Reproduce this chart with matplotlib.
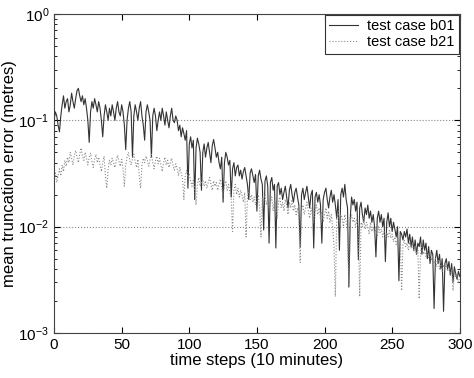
import numpy as np
import matplotlib.pyplot as plt
from matplotlib.ticker import LogLocator, NullFormatter

plt.rcParams['font.family'] = ['Liberation Sans', 'DejaVu Sans']
plt.rcParams['mathtext.fontset'] = 'custom'
plt.rcParams['mathtext.rm'] = 'Liberation Sans'

# mean truncation error per time step
b01 = [
    0.10, 0.12, 0.11, 0.09, 0.078, 0.11, 0.14, 0.17, 0.13, 0.15,
    0.16, 0.12, 0.14, 0.18, 0.15, 0.13, 0.16, 0.19, 0.20, 0.17,
    0.15, 0.17, 0.14, 0.16, 0.13, 0.10, 0.062, 0.12, 0.15, 0.13,
    0.16, 0.14, 0.12, 0.15, 0.13, 0.10, 0.07, 0.11, 0.14, 0.12,
    0.10, 0.13, 0.11, 0.14, 0.12, 0.10, 0.13, 0.15, 0.12, 0.11,
    0.14, 0.12, 0.09, 0.053, 0.10, 0.13, 0.15, 0.12, 0.045, 0.11,
    0.14, 0.12, 0.10, 0.13, 0.15, 0.11, 0.09, 0.065, 0.12, 0.14,
    0.12, 0.10, 0.045, 0.11, 0.13, 0.11, 0.08, 0.10, 0.12, 0.10,
    0.13, 0.11, 0.09, 0.12, 0.10, 0.085, 0.11, 0.13, 0.10, 0.095,
    0.11, 0.10, 0.08, 0.09, 0.07, 0.085, 0.075, 0.065, 0.08, 0.023,
    0.06, 0.07, 0.055, 0.065, 0.018, 0.055, 0.068, 0.06, 0.05, 0.022,
    0.05, 0.06, 0.045, 0.055, 0.062, 0.05, 0.04, 0.058, 0.066, 0.055,
    0.045, 0.05, 0.04, 0.035, 0.045, 0.017, 0.04, 0.05, 0.045, 0.038,
    0.042, 0.019, 0.035, 0.04, 0.03, 0.036, 0.038, 0.03, 0.034, 0.028,
    0.033, 0.036, 0.03, 0.025, 0.018, 0.032, 0.035, 0.03, 0.026, 0.031,
    0.014, 0.03, 0.034, 0.028, 0.025, 0.0093, 0.027, 0.03, 0.024, 0.007,
    0.026, 0.029, 0.022, 0.025, 0.0063, 0.024, 0.026, 0.02, 0.023, 0.018,
    0.021, 0.024, 0.019, 0.015, 0.022, 0.025, 0.02, 0.017, 0.021, 0.023,
    0.019, 0.016, 0.0064, 0.02, 0.023, 0.018, 0.021, 0.024, 0.019, 0.015,
    0.02, 0.022, 0.0063, 0.019, 0.021, 0.017, 0.02, 0.016, 0.007, 0.018,
    0.021, 0.023, 0.018, 0.015, 0.019, 0.022, 0.017, 0.02, 0.016, 0.012,
    0.018, 0.006, 0.02, 0.023, 0.019, 0.025, 0.018, 0.015, 0.0027, 0.012,
    0.019, 0.016, 0.018, 0.014, 0.017, 0.0049, 0.015, 0.017, 0.013, 0.011,
    0.015, 0.013, 0.016, 0.012, 0.014, 0.011, 0.013, 0.01, 0.0052, 0.012,
    0.014, 0.011, 0.013, 0.01, 0.012, 0.0047, 0.011, 0.0135, 0.01, 0.012,
    0.009, 0.011, 0.0095, 0.008, 0.01, 0.0031, 0.009, 0.0085, 0.0075, 0.009,
    0.008, 0.0095, 0.007, 0.0085, 0.0065, 0.008, 0.006, 0.0075, 0.0055, 0.007,
    0.0065, 0.008, 0.0055, 0.0075, 0.006, 0.007, 0.005, 0.0065, 0.0045, 0.006,
    0.0055, 0.0017, 0.005, 0.006, 0.0045, 0.0055, 0.004, 0.005, 0.0016, 0.0045,
    0.005, 0.004, 0.0047, 0.0035, 0.0045, 0.003, 0.0042, 0.0036, 0.0032, 0.0038,
    0.0034,
]

b21 = [
    0.028, 0.032, 0.026, 0.03, 0.035, 0.03, 0.038, 0.033, 0.042, 0.037,
    0.045, 0.04, 0.05, 0.044, 0.038, 0.047, 0.052, 0.045, 0.04, 0.048,
    0.055, 0.046, 0.042, 0.05, 0.044, 0.038, 0.045, 0.049, 0.041, 0.036,
    0.043, 0.048, 0.04, 0.045, 0.038, 0.033, 0.04, 0.046, 0.03, 0.023,
    0.035, 0.042, 0.038, 0.044, 0.04, 0.036, 0.042, 0.047, 0.041, 0.037,
    0.043, 0.035, 0.024, 0.038, 0.045, 0.05, 0.042, 0.038, 0.044, 0.048,
    0.041, 0.036, 0.043, 0.03, 0.023, 0.038, 0.044, 0.04, 0.046, 0.042,
    0.037, 0.043, 0.048, 0.04, 0.035, 0.042, 0.046, 0.039, 0.044, 0.038,
    0.033, 0.04, 0.045, 0.038, 0.042, 0.036, 0.04, 0.044, 0.037, 0.034,
    0.039, 0.035, 0.03, 0.036, 0.032, 0.028, 0.018, 0.03, 0.034, 0.029,
    0.031, 0.027, 0.024, 0.028, 0.022, 0.016, 0.025, 0.029, 0.024, 0.026,
    0.028, 0.024, 0.027, 0.023, 0.026, 0.029, 0.025, 0.022, 0.027, 0.024,
    0.026, 0.022, 0.025, 0.028, 0.023, 0.02, 0.024, 0.027, 0.022, 0.025,
    0.021, 0.018, 0.009, 0.022, 0.025, 0.02, 0.023, 0.019, 0.022, 0.02,
    0.017, 0.021, 0.008, 0.019, 0.022, 0.018, 0.02, 0.017, 0.019, 0.016,
    0.018, 0.02, 0.015, 0.008, 0.019, 0.017, 0.02, 0.016, 0.018, 0.015,
    0.017, 0.019, 0.014, 0.018, 0.016, 0.012, 0.017, 0.019, 0.015, 0.017,
    0.014, 0.018, 0.016, 0.013, 0.017, 0.015, 0.018, 0.014, 0.016, 0.013,
    0.015, 0.012, 0.0046, 0.014, 0.016, 0.013, 0.015, 0.017, 0.014, 0.012,
    0.015, 0.013, 0.011, 0.014, 0.016, 0.013, 0.015, 0.012, 0.014, 0.011,
    0.013, 0.015, 0.012, 0.014, 0.011, 0.013, 0.01, 0.0065, 0.0022, 0.012,
    0.014, 0.011, 0.013, 0.012, 0.01, 0.013, 0.011, 0.009, 0.003, 0.011,
    0.013, 0.011, 0.012, 0.01, 0.012, 0.009, 0.0022, 0.011, 0.01, 0.012,
    0.0095, 0.011, 0.01, 0.0085, 0.011, 0.009, 0.01, 0.0085, 0.0095, 0.008,
    0.01, 0.0088, 0.0095, 0.008, 0.009, 0.0075, 0.0088, 0.008, 0.0092, 0.0078,
    0.0085, 0.0072, 0.008, 0.0068, 0.0078, 0.007, 0.0075, 0.0025, 0.0068, 0.0075,
    0.0065, 0.007, 0.006, 0.0072, 0.0063, 0.0068, 0.0058, 0.0066, 0.0055, 0.006,
    0.0021, 0.0058, 0.0064, 0.0055, 0.006, 0.0052, 0.0058, 0.005, 0.0056, 0.0048,
    0.0052, 0.0045, 0.005, 0.0042, 0.0048, 0.004, 0.0046, 0.0038, 0.0044, 0.004,
    0.0045, 0.0038, 0.0042, 0.0035, 0.004, 0.0025, 0.0038, 0.0033, 0.0036, 0.003,
    0.0032,
]

steps = np.arange(len(b01))

fig = plt.figure(figsize=(4.74, 3.78), dpi=100)
ax = fig.add_axes([0.114, 0.119, 0.856, 0.844])

ax.semilogy(steps, b01, color='#333333', lw=0.8, label='test case b01')
ax.semilogy(steps, b21, color='#888888', lw=0.8, ls=':', label='test case b21')

ax.set_xlim(0, 300)
ax.set_ylim(1e-3, 1e0)
ax.set_xticks([0, 50, 100, 150, 200, 250, 300])
ax.yaxis.set_major_locator(LogLocator(base=10, numticks=10))
ax.yaxis.set_minor_locator(LogLocator(base=10, subs=np.arange(2, 10), numticks=10))
ax.yaxis.set_minor_formatter(NullFormatter())

ax.yaxis.grid(True, which='major', ls=':', color='#888888', lw=0.8)
ax.tick_params(which='both', direction='in', top=True, right=True, labelsize=11)
ax.tick_params(which='major', length=4)
ax.tick_params(which='minor', length=2)
for s in ax.spines.values():
    s.set_color('#444444')
    s.set_linewidth(0.8)

ax.set_xlabel('time steps (10 minutes)', fontsize=12, labelpad=1)
ax.set_ylabel('mean truncation error (metres)', fontsize=12, labelpad=1)

leg = ax.legend(loc='upper right', fontsize=10.5, fancybox=False, framealpha=1,
                edgecolor='#333333', handlelength=2.0, borderaxespad=0.05,
                borderpad=0.3, labelspacing=0.15, handletextpad=0.6)
leg.get_frame().set_linewidth(0.8)

fig.savefig('out.png', dpi=100)
